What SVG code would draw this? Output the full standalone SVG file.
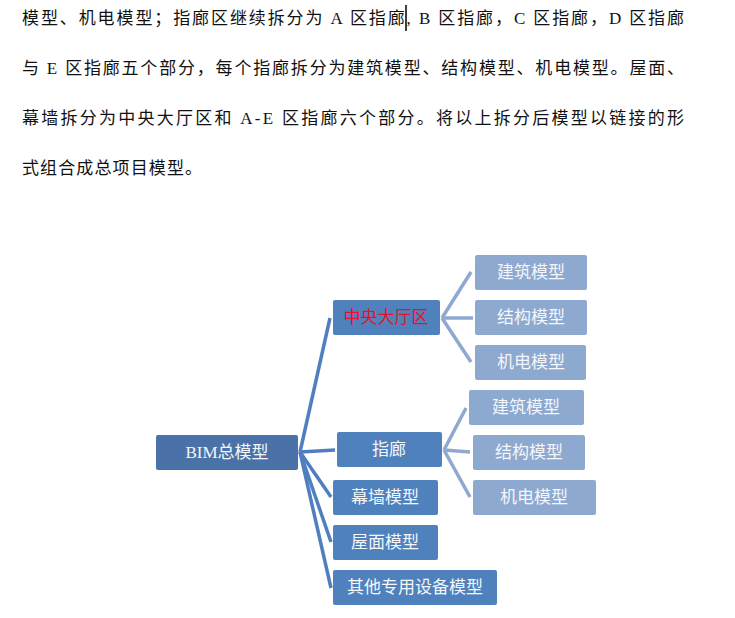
<svg xmlns="http://www.w3.org/2000/svg" width="735" height="618" viewBox="0 0 735 618">
<style>
.p{font-family:"Liberation Serif","Noto Sans CJK SC",serif;font-size:17px;fill:#111}
.t{font-family:"Liberation Serif","Noto Sans CJK SC",serif;font-size:17px;fill:#f4f6fa;text-anchor:middle;dominant-baseline:central}
.root{fill:#4a72a8}
.mid{fill:#4f81bd}
.lt{fill:#8ea9d0}
.c1{fill:none;stroke:#4f7fbf;stroke-width:3.5}
.c2{fill:none;stroke:#8ea9d0;stroke-width:3.5}
</style>
<rect width="735" height="618" fill="#fff"/>
<text class="p" x="22" y="24" textLength="662" lengthAdjust="spacing">模型、机电模型；指廊区继续拆分为 A 区指廊, B 区指廊，C 区指廊，D 区指廊</text>
<line x1="406" y1="5" x2="406" y2="31" stroke="#000" stroke-width="1.5"/>
<text class="p" x="22" y="74" textLength="662" lengthAdjust="spacing">与 E 区指廊五个部分，每个指廊拆分为建筑模型、结构模型、机电模型。屋面、</text>
<text class="p" x="22" y="124" textLength="662" lengthAdjust="spacing">幕墙拆分为中央大厅区和 A-E 区指廊六个部分。将以上拆分后模型以链接的形</text>
<text class="p" x="22" y="174" textLength="180" lengthAdjust="spacing">式组合成总项目模型。</text>
<g id="connectors">
<path class="c1" d="M300 452 L330 318"/>
<path class="c1" d="M300 452 L335 450"/>
<path class="c1" d="M300 452 L331 497"/>
<path class="c1" d="M300 452 L331 542"/>
<path class="c1" d="M300 452 L331 588"/>
<path class="c2" d="M442 318 L471 272"/>
<path class="c2" d="M442 318 L473 318"/>
<path class="c2" d="M442 318 L471 362"/>
<path class="c2" d="M444 450 L466 408"/>
<path class="c2" d="M444 450 L470 452"/>
<path class="c2" d="M444 450 L470 497"/>
</g>
<g id="bim"><rect class="root" x="156" y="435" width="142" height="35" rx="2"/><text class="t" x="227" y="452">BIM总模型</text></g>
<g id="hall"><rect class="mid" x="333" y="300" width="107" height="35" rx="2"/><text class="t" x="386" y="317" style="fill:#e8102a">中央大厅区</text></g>
<g id="pier"><rect class="mid" x="337" y="432" width="105" height="35" rx="2"/><text class="t" x="389" y="449">指廊</text></g>
<g id="curtain"><rect class="mid" x="333" y="480" width="105" height="35" rx="2"/><text class="t" x="385" y="497">幕墙模型</text></g>
<g id="roof"><rect class="mid" x="333" y="525" width="105" height="35" rx="2"/><text class="t" x="385" y="542">屋面模型</text></g>
<g id="other"><rect class="mid" x="333" y="570" width="164" height="35" rx="2"/><text class="t" x="415" y="587">其他专用设备模型</text></g>
<g id="h-arch"><rect class="lt" x="475" y="255" width="112" height="35" rx="2"/><text class="t" x="531" y="272">建筑模型</text></g>
<g id="h-struct"><rect class="lt" x="475" y="300" width="112" height="35" rx="2"/><text class="t" x="531" y="317">结构模型</text></g>
<g id="h-mep"><rect class="lt" x="475" y="345" width="111" height="35" rx="2"/><text class="t" x="531" y="362">机电模型</text></g>
<g id="p-arch"><rect class="lt" x="469" y="390" width="115" height="35" rx="2"/><text class="t" x="526" y="407">建筑模型</text></g>
<g id="p-struct"><rect class="lt" x="473" y="435" width="112" height="35" rx="2"/><text class="t" x="529" y="452">结构模型</text></g>
<g id="p-mep"><rect class="lt" x="473" y="480" width="123" height="35" rx="2"/><text class="t" x="534" y="497">机电模型</text></g>
</svg>
